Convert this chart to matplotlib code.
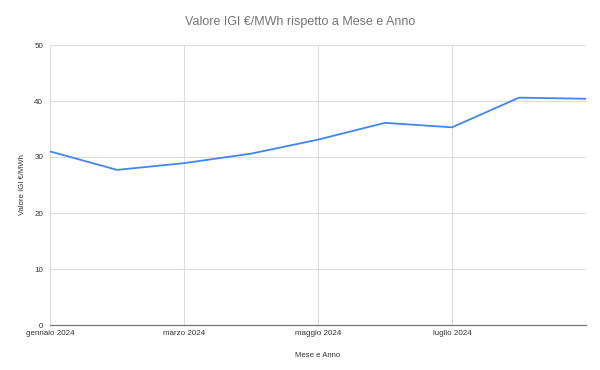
import matplotlib
matplotlib.use("Agg")
import matplotlib.pyplot as plt

plt.rcParams['font.family'] = ['Liberation Sans', 'DejaVu Sans']

months = ["gennaio 2024", "febbraio 2024", "marzo 2024", "aprile 2024", "maggio 2024",
          "giugno 2024", "luglio 2024", "agosto 2024", "settembre 2024"]
values = [31.0, 27.7, 28.9, 30.6, 33.1, 36.1, 35.3, 40.6, 40.4]
tick_idx = [0, 2, 4, 6, 8]
tick_labels = ["gennaio 2024", "marzo 2024", "maggio 2024", "luglio 2024", ""]
y_ticks = [0, 10, 20, 30, 40, 50]

fig = plt.figure(figsize=(6, 3.7), dpi=100)
ax = fig.add_axes([50/600, 1-325/370, 536/600, 280/370])

x = list(range(len(months)))
ax.plot(x, values, color="#4285F4", linewidth=1.3, solid_joinstyle="round", zorder=3)

ax.set_xlim(0, len(months)-1)
ax.set_ylim(0, 50)
ax.set_xticks(tick_idx)
ax.set_xticklabels(tick_labels)
ax.set_yticks(y_ticks)
ax.grid(True, color="#dcdcdc", linewidth=0.8)
ax.set_axisbelow(True)
for s in ["top", "right", "left"]:
    ax.spines[s].set_visible(False)
ax.spines["bottom"].set_color("#777777")
ax.spines["bottom"].set_linewidth(0.9)
ax.tick_params(axis="both", length=0, labelsize=5.8, colors="#333333")
ax.tick_params(axis="x", pad=3.5)
ax.tick_params(axis="y", pad=5)
for lbl in ax.get_xticklabels():
    lbl.set_horizontalalignment("center")

ax.set_xlabel("Mese e Anno", fontsize=5.6, color="#333333", labelpad=11)
ax.set_ylabel("Valore IGI €/MWh", fontsize=5.6, color="#333333", labelpad=6)
fig.suptitle("Valore IGI €/MWh rispetto a Mese e Anno", fontsize=9, color="#757575",
             y=1-22/370, va="center")

fig.savefig("out.png", dpi=100, facecolor="white")
